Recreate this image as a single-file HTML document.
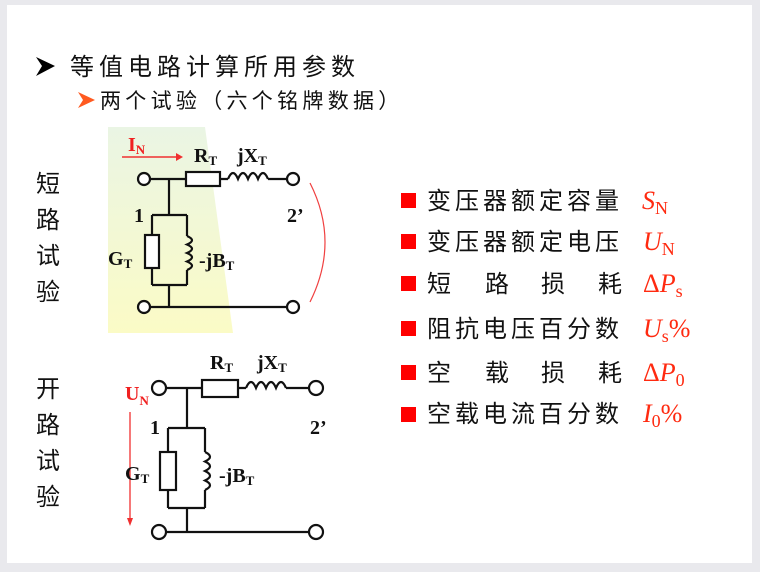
<!DOCTYPE html>
<html><head><meta charset="utf-8"><style>
html,body{margin:0;padding:0;background:#e9e9ed;}
svg{display:block}
.cj{font-family:"Liberation Sans","Noto Sans CJK SC",sans-serif;fill:#111}
.lb{font-family:"Liberation Serif",serif;font-weight:bold;font-size:20px;fill:#111}
.sym{font-family:"Liberation Serif",serif;font-style:italic;font-size:26px;fill:#ff2a10}
.sub{font-style:normal;font-size:18px}
</style></head><body>
<svg width="760" height="572" viewBox="0 0 760 572" xmlns="http://www.w3.org/2000/svg">
<defs><linearGradient id="g" x1="0" y1="0" x2="0" y2="1"><stop offset="0" stop-color="#eaf5e4"/><stop offset="1" stop-color="#fbfbc6"/></linearGradient></defs>
<rect x="7" y="5" width="745" height="558" fill="#fff"/>
<!-- title -->
<path d="M36 57 L55 66 L36 76 L42 66 Z" fill="#000"/>
<text x="70" y="75" class="cj" font-size="24" letter-spacing="5">等值电路计算所用参数</text>
<path d="M78 92 L95 100 L78 108 L83 100 Z" fill="#ff5a20"/>
<text x="100" y="108" class="cj" font-size="21" letter-spacing="4.3">两个试验（六个铭牌数据）</text>
<!-- left labels -->
<g class="cj" font-size="24">
<text x="36" y="192">短</text><text x="36" y="228">路</text><text x="36" y="264">试</text><text x="36" y="300">验</text>
<text x="36" y="397">开</text><text x="36" y="433">路</text><text x="36" y="469">试</text><text x="36" y="505">验</text>
</g>
<!-- yellow region -->
<path d="M108 127 L205 127 L233 333 L108 333 Z" fill="url(#g)"/>
<!-- circuit 1 -->
<g stroke="#111" stroke-width="2.2" fill="none">
<path d="M150 179 H186 M220 179 H228 M268 179 H287"/>
<path d="M169 179 V215 M152 215 H187 M152 215 V235 M152 268 V285 M187 215 V236 M187 270 V285 M152 285 H187 M169 285 V307 M150 307 H287"/>
<rect x="186" y="172" width="34" height="14" fill="#fff"/>
<rect x="145" y="235" width="14" height="33" fill="#fff"/>
<path d="M228 179 q5 -12 10 0 q5 -12 10 0 q5 -12 10 0 q5 -12 10 0"/>
<path d="M187 236 q10 4.25 0 8.5 q10 4.25 0 8.5 q10 4.25 0 8.5 q10 4.25 0 8.5"/>
<circle cx="144" cy="179" r="6" fill="#fff"/><circle cx="293" cy="179" r="6" fill="#fff"/>
<circle cx="144" cy="307" r="6" fill="#fff"/><circle cx="293" cy="307" r="6" fill="#fff"/>
</g>
<path d="M310 183 Q340 242 310 302" stroke="#f04040" stroke-width="1.2" fill="none"/>
<path d="M122 157 H176" stroke="#f03030" stroke-width="1.5"/><path d="M176 153 L183 157 L176 161Z" fill="#f03030"/>
<text x="128" y="151" class="lb" style="fill:#f02020">I<tspan font-size="13" dy="3">N</tspan></text>
<text x="194" y="162" class="lb">R<tspan font-size="13" dy="3">T</tspan></text>
<text x="237" y="162" class="lb">jX<tspan font-size="13" dy="3">T</tspan></text>
<text x="134" y="222" class="lb">1</text>
<text x="287" y="222" class="lb">2’</text>
<text x="108" y="265" class="lb">G<tspan font-size="13" dy="3">T</tspan></text>
<text x="199" y="267" class="lb">-jB<tspan font-size="13" dy="3">T</tspan></text>
<!-- circuit 2 -->
<g stroke="#111" stroke-width="2.2" fill="none">
<path d="M165 388 H202 M238 388 H246 M286 388 H310"/>
<path d="M187 388 V428 M168 428 H205 M168 428 V452 M168 490 V508 M205 428 V452 M205 490 V508 M168 508 H205 M187 508 V532 M165 532 H310"/>
<rect x="202" y="380" width="36" height="17" fill="#fff"/>
<rect x="160" y="452" width="16" height="38" fill="#fff"/>
<path d="M246 388 q5 -12 10 0 q5 -12 10 0 q5 -12 10 0 q5 -12 10 0"/>
<path d="M205 452 q10 4.75 0 9.5 q10 4.75 0 9.5 q10 4.75 0 9.5 q10 4.75 0 9.5"/>
<circle cx="159" cy="388" r="7" fill="#fff"/><circle cx="316" cy="388" r="7" fill="#fff"/>
<circle cx="159" cy="532" r="7" fill="#fff"/><circle cx="316" cy="532" r="7" fill="#fff"/>
</g>
<path d="M130 412 V520" stroke="#f03030" stroke-width="1.3"/><path d="M127 518 L130 526 L133 518Z" fill="#f03030"/>
<text x="125" y="400" class="lb" style="fill:#f02020">U<tspan font-size="13" dy="5">N</tspan></text>
<text x="210" y="369" class="lb">R<tspan font-size="13" dy="3">T</tspan></text>
<text x="257" y="369" class="lb">jX<tspan font-size="13" dy="3">T</tspan></text>
<text x="150" y="434" class="lb">1</text>
<text x="310" y="434" class="lb">2’</text>
<text x="125" y="480" class="lb">G<tspan font-size="13" dy="3">T</tspan></text>
<text x="219" y="482" class="lb">-jB<tspan font-size="13" dy="3">T</tspan></text>
<!-- right list -->
<g fill="#f00">
<rect x="401" y="193" width="15" height="15"/><rect x="401" y="234" width="15" height="15"/>
<rect x="401" y="276" width="15" height="15"/><rect x="401" y="321" width="15" height="15"/>
<rect x="401" y="365" width="15" height="15"/><rect x="401" y="407" width="15" height="15"/>
</g>
<g class="cj" font-size="24">
<text x="427" y="209" letter-spacing="4">变压器额定容量</text>
<text x="427" y="250" letter-spacing="4">变压器额定电压</text>
<text x="427" y="292">短</text><text x="485" y="292">路</text><text x="541" y="292">损</text><text x="598" y="292">耗</text>
<text x="427" y="337" letter-spacing="4">阻抗电压百分数</text>
<text x="427" y="381">空</text><text x="485" y="381">载</text><text x="541" y="381">损</text><text x="598" y="381">耗</text>
<text x="427" y="422" letter-spacing="4">空载电流百分数</text>
</g>
<text x="642" y="209" class="sym">S<tspan class="sub" dy="5">N</tspan></text>
<text x="643" y="250" class="sym">U<tspan class="sub" dy="5">N</tspan></text>
<text x="643" y="292" class="sym"><tspan font-style="normal">Δ</tspan>P<tspan class="sub" dy="5">s</tspan></text>
<text x="643" y="337" class="sym">U<tspan class="sub" dy="5">s</tspan><tspan font-style="normal" dy="-5">%</tspan></text>
<text x="643" y="381" class="sym"><tspan font-style="normal">Δ</tspan>P<tspan class="sub" dy="5">0</tspan></text>
<text x="643" y="422" class="sym">I<tspan class="sub" dy="5">0</tspan><tspan font-style="normal" dy="-5">%</tspan></text>
</svg>
</body></html>
